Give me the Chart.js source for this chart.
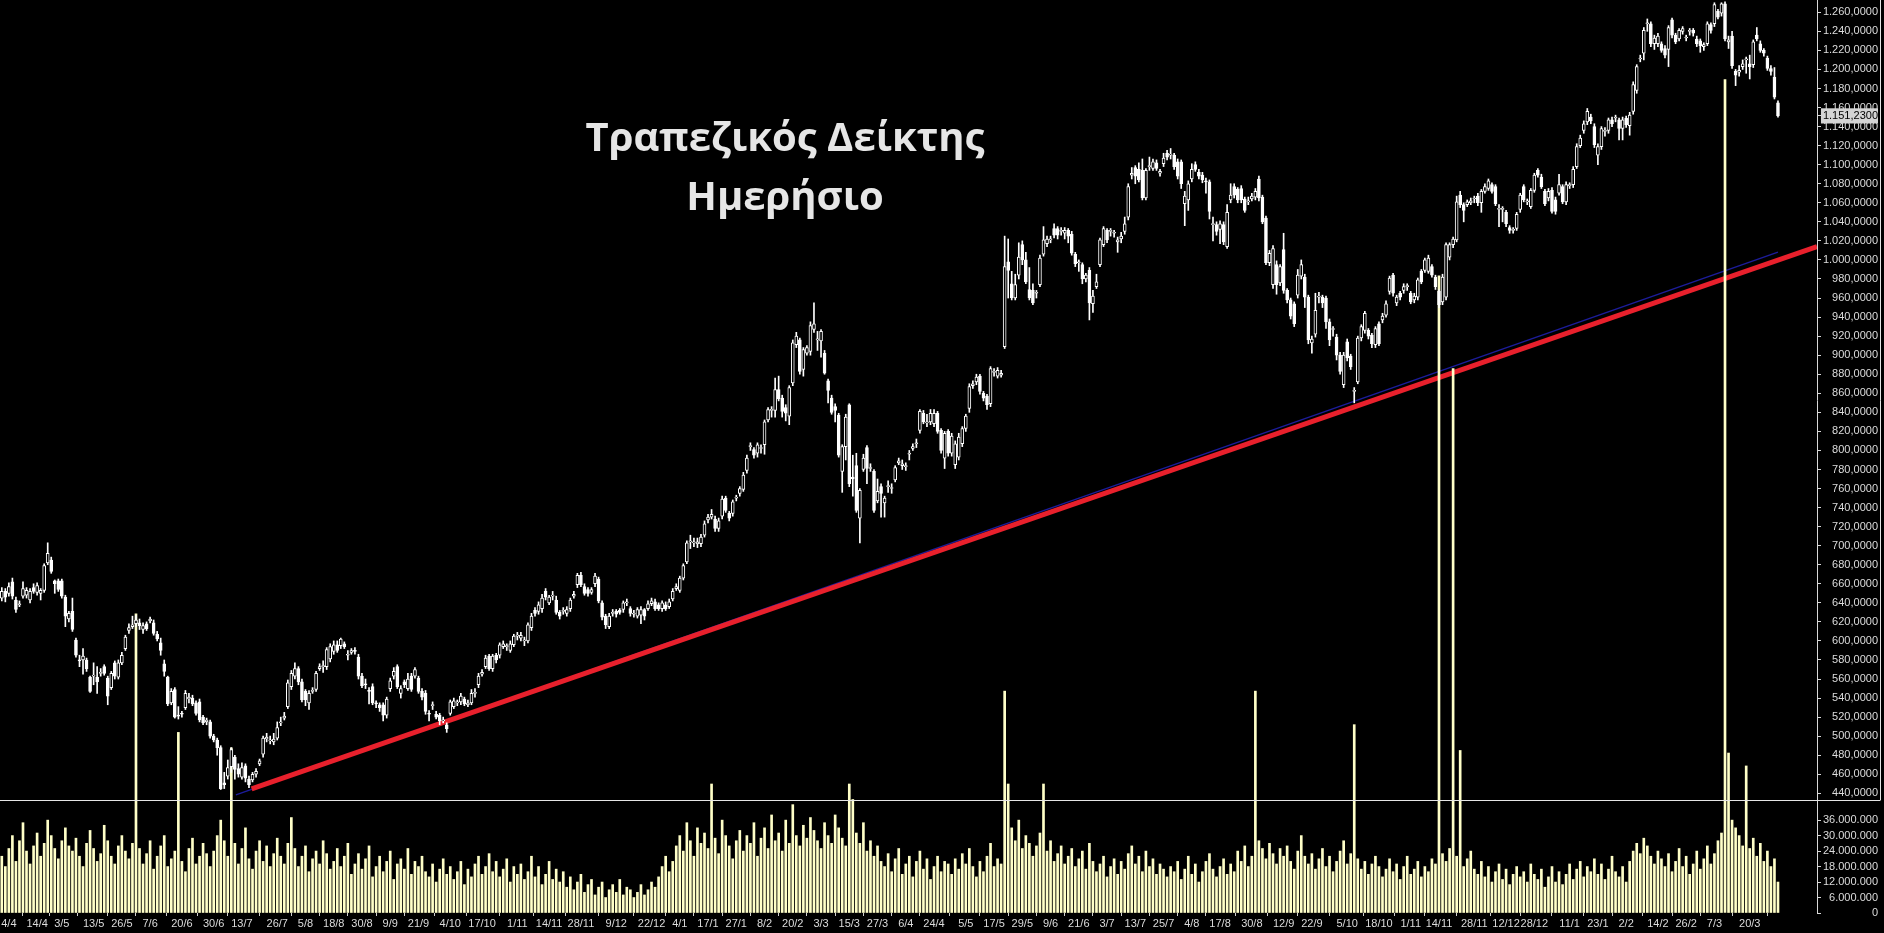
<!DOCTYPE html>
<html><head><meta charset="utf-8">
<script src="https://cdn.jsdelivr.net/npm/chart.js@4.4.1/dist/chart.umd.min.js"></script>
<style>
html,body{margin:0;padding:0;background:#000;overflow:hidden;}
#wrap{position:relative;width:1884px;height:933px;}
#title{position:absolute;left:585px;top:106px;width:400px;text-align:center;color:#e6e6e6;font-family:"Open Sans";font-weight:bold;font-size:40px;line-height:59px;white-space:nowrap;}
</style></head><body>
<div id="wrap"><canvas id="c" width="1884" height="933"></canvas>
<div id="title">Τραπεζικός Δείκτης<br>Ημερήσιο</div></div>
<script>
const opens = [
645,652,650,662,643,638,647,648,643,656,
651,650,653,682,685,663,663,663,646,623,
631,601,580,580,580,562,563,562,566,573,
561,551,577,562,577,592,611,615,618,619,
612,618,621,619,607,598,576,562,535,549,
522,524,530,539,540,535,536,520,515,515,
500,496,488,451,458,468,478,466,457,469,
455,454,460,471,481,497,495,494,498,514,
519,531,552,563,571,557,547,535,547,549,
571,573,573,581,589,596,595,597,585,588,
590,583,563,555,548,552,535,533,533,522,
550,563,573,545,557,550,563,563,561,547,
545,524,532,523,522,516,512,524,531,535,
536,539,533,535,545,554,565,573,584,571,
585,585,594,594,590,596,605,603,600,600,
614,632,631,634,652,640,647,643,630,631,
629,634,647,659,669,657,654,651,660,665,
640,626,615,629,631,632,633,640,634,628,
626,627,633,634,639,641,638,634,638,636,
644,655,653,666,683,704,703,702,702,711,
727,730,728,718,731,750,734,734,750,755,
759,779,804,801,797,802,806,832,842,842,
864,855,845,836,871,911,916,885,902,904,
927,916,915,902,873,855,846,837,778,804,
848,772,784,729,780,803,781,778,747,762,
745,762,760,769,787,784,783,796,802,807,
821,839,829,830,828,839,821,792,820,797,
785,793,807,823,844,868,872,878,860,857,
849,882,878,879,909,998,975,960,984,1016,
1000,969,968,965,974,1006,1017,1021,1033,1033,
1030,1028,1031,1027,1006,997,995,980,989,954,
972,995,1016,1031,1030,1028,1019,1022,1030,1045,
1089,1097,1095,1094,1065,1098,1096,1102,1091,1101,
1112,1110,1110,1103,1103,1059,1063,1085,1100,1092,
1089,1083,1082,1037,1037,1032,1037,1014,1063,1077,
1074,1075,1064,1061,1064,1066,1085,1066,1044,997,
974,995,976,1011,968,958,954,963,983,982,
961,913,922,961,961,960,935,927,919,900,
869,914,899,862,872,918,926,926,921,911,
933,937,942,967,984,955,965,968,972,965,
958,961,988,989,988,993,982,967,956,961,
1003,1016,1021,1068,1058,1058,1060,1064,1067,1060,
1072,1075,1079,1077,1053,1053,1050,1034,1031,1033,
1053,1077,1061,1056,1073,1094,1087,1072,1065,1073,
1063,1070,1077,1061,1078,1079,1098,1120,1136,1145,
1150,1140,1110,1119,1135,1136,1147,1149,1147,1138,
1149,1141,1156,1178,1211,1217,1248,1248,1227,1227,
1227,1222,1221,1252,1236,1232,1240,1233,1240,1241,
1232,1230,1224,1227,1247,1248,1261,1259,1269,1229,
1235,1198,1197,1203,1210,1206,1205,1236,1227,1220,
1212,1201,1192,1165];
const highs = [
656,655,661,666,646,642,662,656,655,660,
661,655,681,703,688,664,665,665,648,631,
645,603,585,592,582,563,577,573,571,575,
563,568,579,580,588,606,618,626,627,623,
619,620,625,622,610,603,580,563,550,551,
531,526,548,545,543,537,539,522,519,517,
502,498,490,462,475,488,480,471,472,471,
458,462,466,476,500,503,500,503,515,520,
525,559,569,577,573,560,549,548,551,568,
576,579,593,597,600,600,603,599,590,592,
593,586,566,560,551,555,537,535,535,541,
561,572,575,553,559,566,566,572,563,550,
548,527,536,526,524,520,514,538,540,538,
545,541,538,549,550,566,570,585,586,586,
587,598,600,597,600,607,609,609,604,619,
629,635,641,649,655,648,652,647,632,635,
636,645,652,671,672,660,656,656,671,667,
642,628,629,633,633,634,642,644,636,632,
635,636,634,642,645,644,640,642,641,644,
655,660,668,681,705,711,708,708,712,726,
733,738,731,729,752,752,736,748,753,762,
777,795,808,803,808,806,832,845,846,876,
878,858,848,868,916,924,918,908,910,935,
955,925,927,905,875,858,849,839,806,838,
849,795,797,760,796,805,786,780,770,765,
752,768,765,784,792,790,787,800,807,812,
843,842,838,843,843,841,823,820,822,818,
810,818,825,838,870,873,880,880,862,859,
888,886,887,884,1025,1022,988,985,1018,1020,
1008,992,975,968,1005,1035,1025,1025,1038,1035,
1034,1034,1033,1030,1008,1000,997,986,992,968,
985,1023,1035,1033,1033,1031,1024,1029,1045,1080,
1097,1099,1102,1106,1096,1108,1106,1105,1095,1112,
1115,1117,1112,1106,1105,1072,1083,1101,1103,1095,
1092,1086,1084,1045,1040,1041,1040,1058,1080,1080,
1076,1078,1066,1066,1070,1075,1088,1068,1046,1010,
1015,999,995,1028,970,960,956,990,1000,985,
963,920,965,966,963,962,938,930,922,903,
903,917,901,866,920,932,946,928,923,930,
935,944,957,983,986,963,967,975,975,967,
965,981,990,1002,1005,995,984,969,985,1018,
1018,1024,1067,1072,1060,1063,1065,1067,1070,1074,
1080,1085,1081,1079,1058,1056,1052,1036,1034,1050,
1070,1079,1064,1075,1091,1096,1090,1074,1075,1076,
1066,1090,1079,1082,1081,1098,1122,1131,1146,1159,
1153,1143,1122,1140,1139,1149,1150,1152,1149,1150,
1151,1155,1187,1205,1215,1244,1253,1250,1236,1238,
1229,1225,1246,1254,1238,1243,1245,1236,1243,1243,
1235,1232,1228,1250,1249,1270,1263,1270,1271,1235,
1240,1200,1204,1210,1213,1215,1231,1244,1230,1222,
1214,1204,1202,1167];
const lows = [
642,641,647,644,630,636,645,645,640,650,
648,643,651,680,671,650,652,645,615,620,
610,583,573,565,568,546,554,545,563,564,
533,549,560,560,575,590,608,613,615,612,
608,611,619,606,600,585,563,532,533,519,
518,520,528,535,532,522,515,512,512,498,
494,480,444,445,455,462,455,457,455,452,
446,452,457,469,478,494,492,491,496,511,
517,529,549,560,554,536,532,528,545,547,
569,567,570,578,586,588,592,592,580,586,
586,560,551,550,534,533,530,526,516,519,
547,560,550,540,551,548,547,561,545,538,
523,516,528,518,512,514,504,522,529,532,
533,532,531,533,541,551,563,571,569,568,
577,582,592,590,588,594,601,600,595,598,
611,626,628,630,643,638,643,628,623,628,
626,631,645,656,657,648,647,649,657,640,
622,613,613,626,625,628,630,637,626,625,
624,618,622,632,637,632,632,631,632,634,
642,653,651,664,681,697,699,698,699,709,
724,728,715,715,728,735,726,731,747,752,
757,776,800,792,793,797,796,830,835,835,
852,835,831,827,868,908,880,878,900,900,
924,905,898,880,850,838,830,793,756,790,
762,752,735,703,778,765,778,735,745,730,
730,756,755,767,785,780,779,790,800,803,
818,828,825,827,825,818,797,781,794,794,
781,790,804,820,840,865,869,859,852,843,
846,878,876,877,907,960,958,958,980,995,
975,958,953,960,972,1004,1014,1018,1023,1022,
1026,1022,1018,1005,993,988,975,977,937,945,
970,993,1014,1018,1025,1024,1008,1018,1027,1042,
1085,1080,1082,1063,1063,1094,1094,1094,1088,1098,
1105,1106,1095,1085,1075,1036,1052,1082,1093,1085,
1081,1070,1043,1020,1026,1017,1016,1012,1060,1065,
1060,1060,1050,1058,1062,1063,1062,1038,995,994,
970,964,973,965,955,938,930,960,980,950,
912,902,919,955,950,928,910,920,895,880,
866,894,885,850,870,915,923,917,908,908,
910,934,940,964,962,952,958,965,968,954,
955,958,975,987,986,982,969,950,953,958,
1000,1013,1019,1055,1040,1056,1058,1060,1057,1050,
1070,1073,1070,1057,1035,1040,1035,1028,1028,1031,
1050,1061,1058,1054,1071,1087,1075,1057,1062,1049,
1048,1068,1059,1058,1075,1076,1096,1118,1133,1142,
1143,1118,1100,1116,1130,1133,1140,1145,1126,1126,
1139,1131,1153,1175,1208,1210,1240,1224,1221,1224,
1218,1212,1203,1233,1227,1230,1237,1230,1236,1235,
1224,1218,1220,1225,1238,1245,1253,1256,1230,1222,
1201,1183,1193,1200,1196,1190,1202,1230,1218,1214,
1199,1194,1169,1150];
const closes = [
652,646,657,647,633,639,655,653,652,652,
658,653,679,692,673,660,654,647,626,629,
612,585,579,584,571,547,564,557,567,566,
542,566,563,577,585,604,614,617,622,616,
616,613,623,608,602,590,568,534,547,520,
521,523,545,541,534,524,517,514,517,500,
496,488,445,449,467,486,465,460,467,456,
449,460,463,474,498,499,496,497,509,515,
521,556,566,571,557,538,538,545,548,566,
573,574,591,594,596,590,602,594,585,590,
589,563,553,554,547,535,534,530,522,539,
558,568,552,550,554,560,549,570,547,541,
526,523,532,520,516,516,508,536,537,535,
542,534,535,545,545,563,567,582,571,584,
580,596,597,594,597,605,605,606,600,617,
626,629,638,645,646,646,647,630,626,631,
633,643,649,669,659,650,650,654,668,642,
625,617,626,629,628,630,640,641,629,628,
633,633,626,639,642,634,634,640,634,641,
652,657,666,679,703,704,703,704,709,723,
730,733,718,726,749,737,729,746,750,760,
774,792,804,795,806,802,830,843,842,864,
854,841,839,866,913,920,883,906,908,931,
933,916,925,881,863,840,842,795,804,835,
765,770,737,758,792,781,782,737,757,755,
750,762,760,782,789,786,783,796,804,807,
841,830,829,839,839,820,800,818,797,815,
807,814,823,836,867,870,877,862,855,848,
886,882,884,881,993,989,960,974,1003,1000,
977,960,955,965,1002,1021,1022,1021,1026,1026,
1030,1031,1025,1007,996,997,980,984,955,962,
977,1021,1033,1021,1030,1028,1021,1025,1038,1077,
1091,1088,1084,1065,1094,1098,1103,1096,1093,1107,
1108,1110,1098,1088,1080,1067,1080,1095,1095,1088,
1084,1082,1051,1037,1030,1038,1019,1050,1068,1068,
1063,1063,1052,1062,1067,1072,1065,1040,997,1007,
1012,974,993,968,958,941,933,984,995,961,
916,917,947,961,955,935,916,927,900,883,
900,897,888,862,918,930,944,920,912,928,
912,941,954,981,965,961,961,972,972,956,
962,979,977,1000,1002,984,972,953,982,1016,
1016,1022,1061,1058,1052,1061,1062,1064,1060,1072,
1077,1083,1072,1059,1053,1053,1038,1031,1031,1048,
1068,1063,1061,1073,1089,1089,1077,1059,1072,1051,
1051,1079,1061,1079,1078,1095,1119,1128,1143,1156,
1146,1121,1119,1138,1136,1147,1143,1149,1138,1147,
1142,1152,1184,1203,1211,1241,1248,1227,1233,1235,
1220,1215,1244,1236,1229,1241,1243,1233,1240,1238,
1227,1225,1226,1248,1241,1268,1255,1269,1232,1231,
1204,1194,1199,1206,1210,1203,1229,1232,1220,1217,
1201,1198,1171,1151.23];
// volume in millions of shares
const volumes = [
22,18,25,30,20,28,35,24,19,26,31,22,27,36,30,25,21,28,33,26,
24,29,22,18,27,32,25,20,23,34,28,22,19,26,30,24,21,27,116,25,
19,23,28,17,22,26,30,18,21,24,70,20,16,25,29,19,22,27,23,18,
24,30,36,28,22,64,27,19,25,33,21,17,24,28,20,26,18,23,29,22,
19,27,37,25,18,22,26,16,21,24,19,28,23,17,20,25,18,22,27,15,
19,23,17,21,26,14,18,22,16,20,24,13,19,21,17,25,15,20,18,22,
16,14,19,12,17,21,15,18,13,16,20,11,17,14,19,22,15,18,23,16,
20,14,17,21,12,18,15,19,13,16,22,14,18,11,15,20,13,17,12,16,
10,14,9,12,15,8,11,13,7,10,12,6,9,11,8,13,7,10,9,6,
8,11,7,9,12,10,14,18,22,16,
20,26,30,24,35,28,22,33,27,31,25,50,29,23,36,30,26,21,28,32,
24,30,27,35,22,29,33,25,38,28,31,24,36,27,42,30,26,34,29,37,
32,28,25,35,30,27,38,33,29,26,50,44,31,27,35,24,28,22,26,20,
18,23,16,21,25,15,19,22,14,20,24,17,21,13,18,22,16,20,19,15,
21,17,23,19,25,18,14,20,16,22,27,18,21,19,86,50,33,28,36,25,
30,27,22,26,31,50,24,28,20,23,26,19,22,25,18,21,24,17,27,20,
16,19,22,14,18,21,15,20,17,23,26,19,22,16,24,18,21,15,19,17,
14,18,16,20,13,17,22,15,19,12,16,20,23,17,14,18,21,15,19,16,
24,20,26,18,22,86,28,25,21,27,23,19,25,22,26,20,17,24,30,22,
19,23,17,21,25,18,22,16,20,24,28,19,23,73,21,17,20,15,19,22,
18,14,17,21,16,19,13,18,22,15,17,20,14,18,16,21,19,247,23,20,
25,211,22,63,18,21,24,17,15,20,14,18,12,16,19,13,17,11,15,18,
14,16,12,19,15,13,17,10,14,18,12,16,11,15,19,13,17,20,14,18,
16,21,15,19,13,17,22,16,14,18,12,20,24,27,23,29,26,22,19,24,
21,18,23,16,20,25,18,22,15,19,24,17,21,26,19,23,28,31,323,62,
36,33,30,26,57,25,29,22,27,20,24,18,21,12];

const dateLabels = ['4/4','14/4','3/5','13/5','26/5','7/6','20/6','30/6','13/7','26/7','5/8','18/8','30/8','9/9','21/9','4/10','17/10','1/11','14/11','28/11','9/12','22/12','4/1','17/1','27/1','8/2','20/2','3/3','15/3','27/3','6/4','24/4','5/5','17/5','29/5','9/6','21/6','3/7','13/7','25/7','4/8','17/8','30/8','12/9','22/9','5/10','18/10','1/11','14/11','28/11','12/12','28/12','11/1','23/1','2/2','14/2','26/2','7/3','20/3'];
const dateIndex = [2,10,17,26,34,42,51,60,68,78,86,94,102,110,118,127,136,146,155,164,174,184,192,200,208,216,224,232,240,248,256,264,273,281,289,297,305,313,321,329,337,345,354,363,371,381,390,399,407,417,426,434,444,452,460,469,477,485,495];

const priceTicks = [440,460,480,500,520,540,560,580,600,620,640,660,680,700,720,740,760,780,800,820,840,860,880,900,920,940,960,980,1000,1020,1040,1060,1080,1100,1120,1140,1160,1180,1200,1220,1240,1260];
const volumeTicks = [0,6,12,18,24,30,36];
const lastPrice = 1151.23;

// trend lines (bar index, price)
const redTrend = [{x:70.75, y:444.7},{x:514.05, y:1014.0}];
const blueTrend = [{x:66.3, y:438.4},{x:503.0, y:1008.2}];

function fmtNum(v, dec){
  const s = v.toFixed(dec);
  let parts = s.split('.');
  let ip = parts[0].replace(/\B(?=(\d{3})+(?!\d))/g, '.');
  return parts.length > 1 ? ip + ',' + parts[1] : ip;
}

const idx = closes.map((_, i) => i);
const wickData = idx.map(i => ({x:i, y:[lows[i], highs[i]]}));
const bodyData = idx.map(i => ({x:i, y:[opens[i], closes[i]]}));
const bodyFill = idx.map(i => closes[i] >= opens[i] ? '#000000' : '#ffffff');
const volData = volumes.map((v, i) => ({x:i, y:v}));

const FONT = {family:'"Liberation Sans", Arial, sans-serif', size:11};

const framePlugin = {
  id:'frames',
  afterDatasetsDraw(chart){
    const ctx = chart.ctx, y = chart.scales.y;
    ctx.save();
    ctx.strokeStyle = '#e6e6e6';
    ctx.lineWidth = 1;
    ctx.beginPath();
    const yy = Math.round(y.bottom) + 0.5;
    ctx.moveTo(0, yy); ctx.lineTo(chart.width - 4, yy);
    const xr = chart.width - 3.5;
    ctx.moveTo(xr, 0); ctx.lineTo(xr, yy);
    ctx.stroke();
    ctx.restore();
  }
};

new Chart(document.getElementById('c'), {
  type:'bar',
  data:{
    datasets:[
      {type:'line', data:blueTrend, yAxisID:'y', borderColor:'#1c1c9a', borderWidth:1.5, pointRadius:0, order:5},
      {type:'line', data:redTrend, yAxisID:'y', borderColor:'#e8202c', borderWidth:5, pointRadius:0, order:4},
      {data:volData, yAxisID:'yv', backgroundColor:'#ffffc8', barThickness:2, grouped:false, clip:false, order:3},
      {data:wickData, yAxisID:'y', backgroundColor:'#ffffff', barThickness:1, grouped:false, order:2},
      {data:bodyData, yAxisID:'y', backgroundColor:bodyFill, borderColor:'#ffffff', borderWidth:1, borderSkipped:false, barThickness:3, minBarLength:1, grouped:false, order:1}
    ]
  },
  options:{
    responsive:false, animation:false, devicePixelRatio:1, events:[],
    layout:{padding:{left:0, right:6, top:0, bottom:0}},
    plugins:{legend:{display:false}, tooltip:{enabled:false}},
    scales:{
      x:{type:'linear', min:-0.51, max:514.05, offset:false, position:'bottom',
        grid:{display:true, drawOnChartArea:false, drawTicks:true, tickLength:3, color:'#cfcfcf'},
        border:{display:false},
        ticks:{autoSkip:false, maxRotation:0, color:'#dcdcdc', font:FONT, padding:1,
          callback:(v, i) => dateLabels[i]},
        afterBuildTicks:s => { s.ticks = dateIndex.map(v => ({value:v})); },
        afterFit:s => { s.height = 20; s.paddingLeft = 0; s.paddingRight = 0; }
      },
      y:{type:'linear', position:'right', stack:'panes', stackWeight:800, min:433.0, max:1272.9,
        grid:{drawOnChartArea:false, tickLength:4, color:'#d8d8d8'},
        border:{display:true, color:'#d8d8d8'},
        ticks:{autoSkip:false, crossAlign:'far', font:FONT,
          color:c => (c.tick && c.tick.value === lastPrice) ? '#000000' : '#dcdcdc',
          showLabelBackdrop:c => !!(c.tick && c.tick.value === lastPrice),
          backdropColor:'#d4d4d4', backdropPadding:{left:2, right:0, top:1, bottom:1},
          callback:v => fmtNum(v, 4)},
        afterBuildTicks:s => { s.ticks = priceTicks.map(v => ({value:v})).concat([{value:lastPrice}]); },
        afterFit:s => { s.width = 61; s.paddingTop = 0; s.paddingBottom = 0; }
      },
      yv:{type:'linear', position:'right', stack:'panes', stackWeight:113, min:0, max:43.8,
        grid:{drawOnChartArea:false, tickLength:4, color:'#d8d8d8'},
        border:{display:true, color:'#d8d8d8'},
        ticks:{autoSkip:false, crossAlign:'far', font:FONT, color:'#dcdcdc',
          callback:v => fmtNum(Math.round(v * 1e6), 0)},
        afterBuildTicks:s => { s.ticks = volumeTicks.map(v => ({value:v})); },
        afterFit:s => { s.width = 61; s.paddingTop = 0; s.paddingBottom = 0; }
      }
    }
  },
  plugins:[framePlugin]
});
</script>
</body></html>
